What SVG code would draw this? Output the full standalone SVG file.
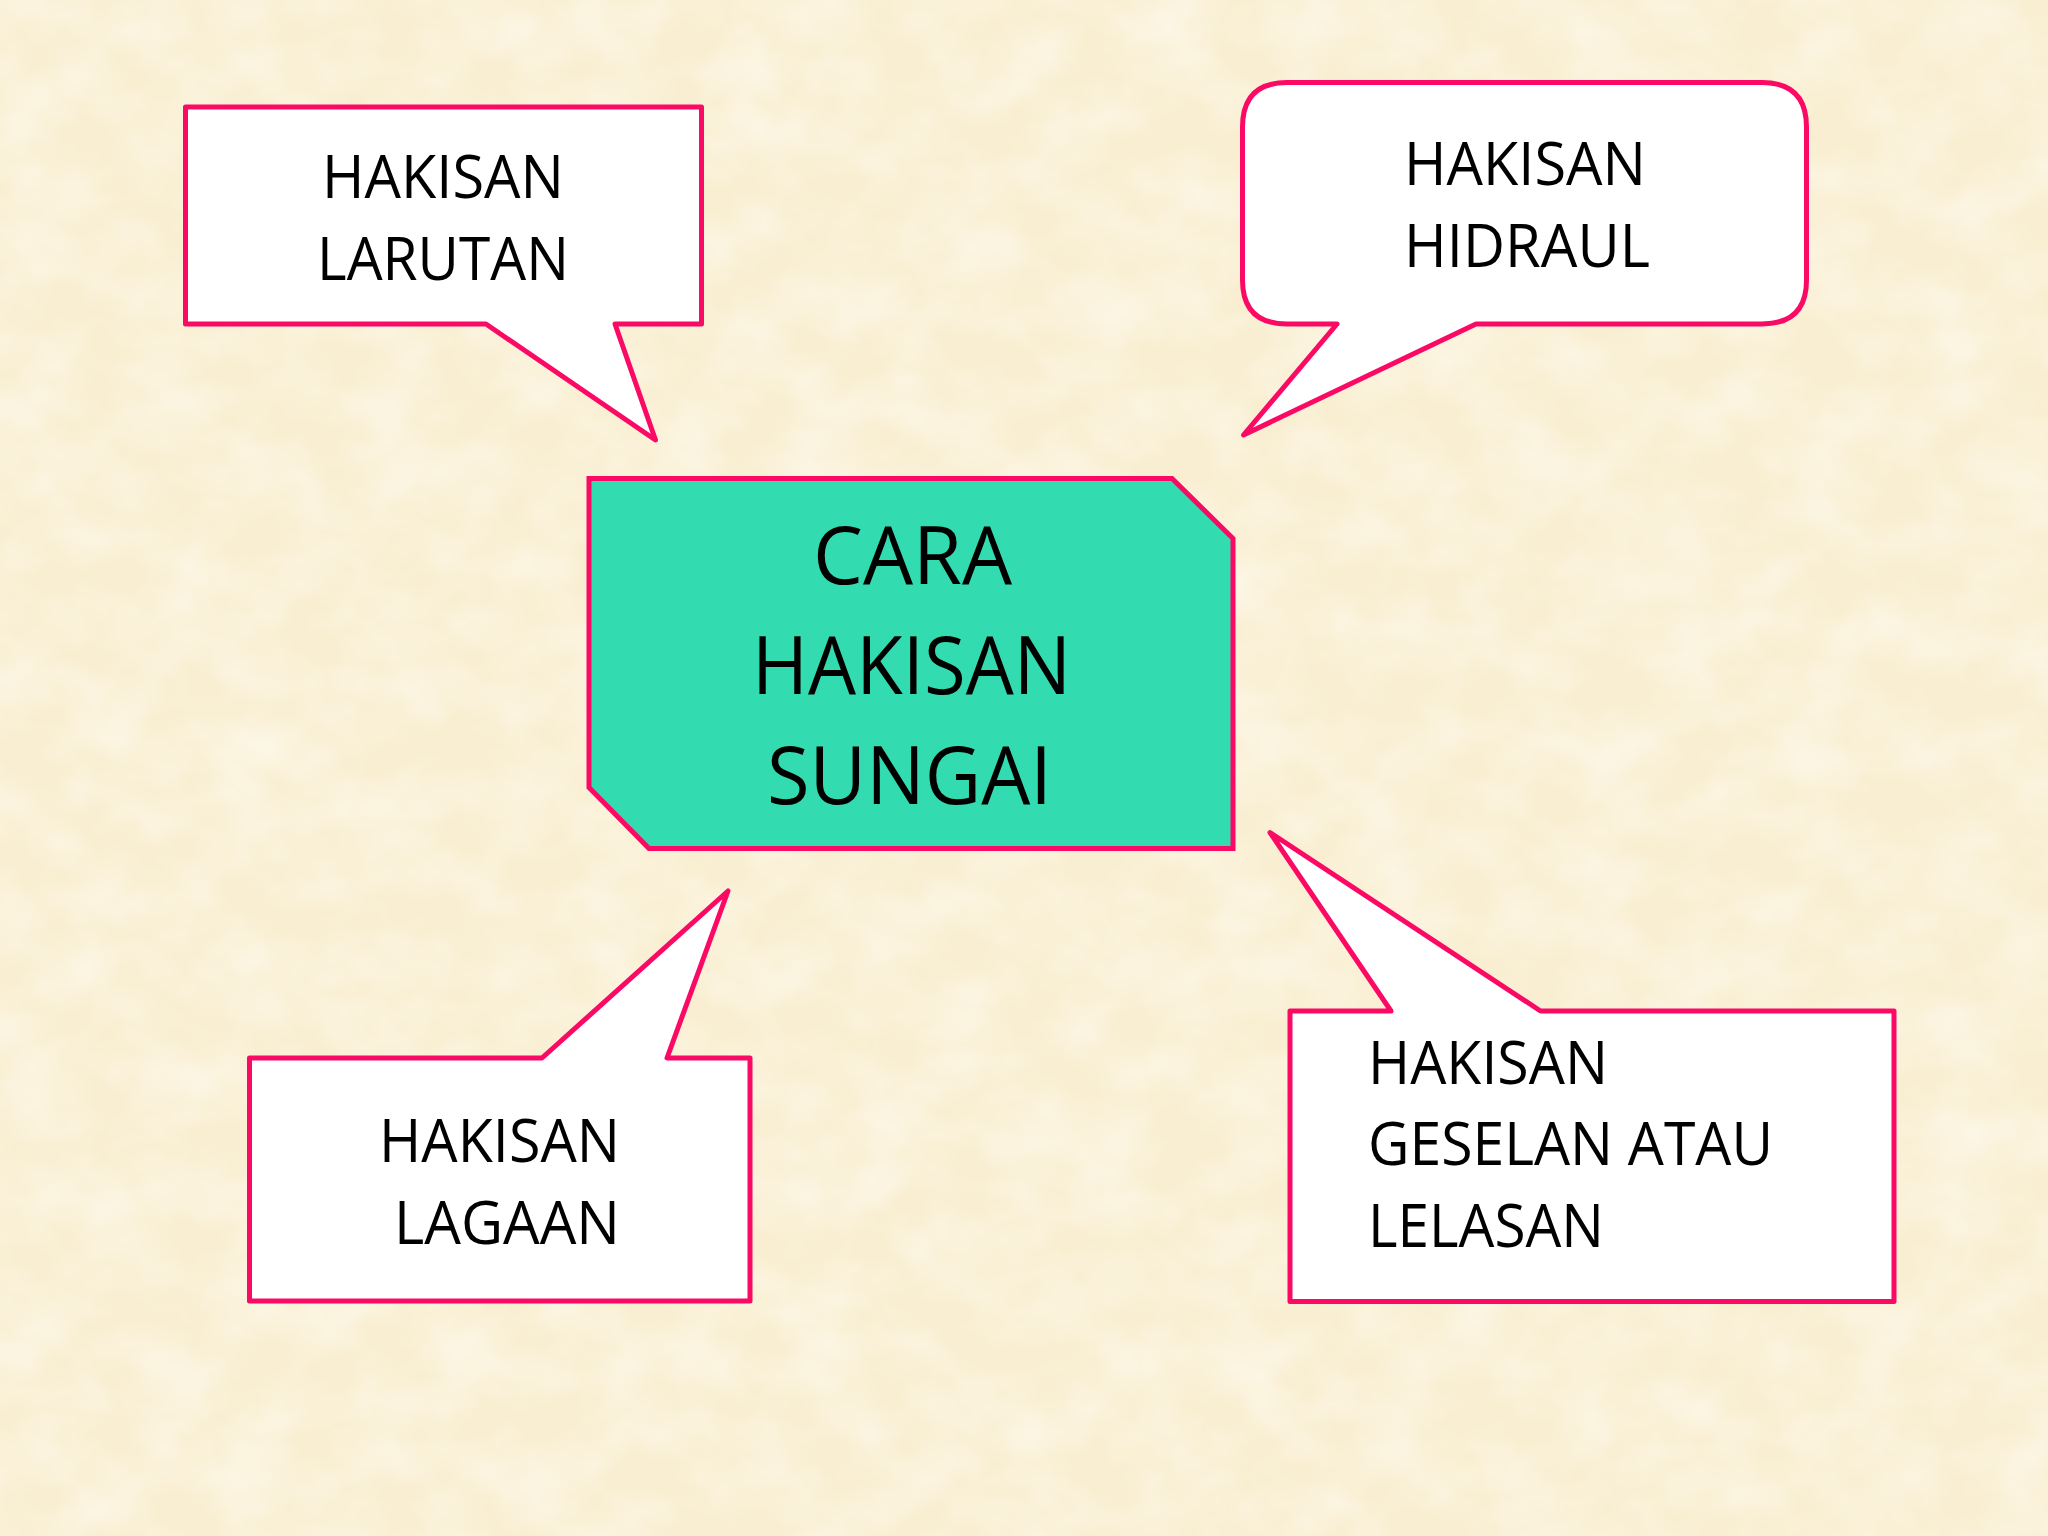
<svg xmlns="http://www.w3.org/2000/svg" width="2048" height="1536" viewBox="0 0 2048 1536">
  <defs>
    <filter id="mottle" x="0" y="0" width="100%" height="100%">
      <feTurbulence type="fractalNoise" baseFrequency="0.014 0.018" numOctaves="3" seed="7" result="n"/>
      <feColorMatrix in="n" type="matrix" values="0 0 0 0 1  0 0 0 0 1  0 0 0 0 0.96  0.8 0 0 0 -0.25"/>
    </filter>
    <style>
      .bubble { fill: #FFFFFF; stroke: #FA0A64; stroke-width: 5; stroke-linejoin: round; }
      .main { fill: #33DCB0; stroke: #FA0A64; stroke-width: 5; stroke-linejoin: miter; }
      .lbl { font-family: "Open Sans", "Lato", "DejaVu Sans", sans-serif; font-size: 61px; fill: #000000; }
      .big { font-family: "Open Sans", "Lato", "DejaVu Sans", sans-serif; font-size: 80px; fill: #000000; }
    </style>
  </defs>

  <rect x="0" y="0" width="2048" height="1536" fill="#F9EED1"/>
  <rect x="0" y="0" width="2048" height="1536" filter="url(#mottle)"/>

  <g id="connectors"></g>

  <g id="node-larutan">
    <path class="bubble" d="M185.5,107 L701.5,107 L701.5,324 L615,324 L655.5,440 L486,324 L185.5,324 Z"/>
    <text class="lbl" x="322" y="197.5" textLength="242" lengthAdjust="spacingAndGlyphs">HAKISAN</text>
    <text class="lbl" x="317" y="279.5" textLength="252" lengthAdjust="spacingAndGlyphs">LARUTAN</text>
  </g>

  <g id="node-hidraul">
    <path class="bubble" d="M1287,82.5 L1762,82.5 Q1806.5,82.5 1806.5,127 L1806.5,280 Q1806.5,324 1762,324 L1476,324 L1243.5,435 L1337,324 L1287,324 Q1242.5,324 1242.5,280 L1242.5,127 Q1242.5,82.5 1287,82.5 Z"/>
    <text class="lbl" x="1404" y="185" textLength="242" lengthAdjust="spacingAndGlyphs">HAKISAN</text>
    <text class="lbl" x="1404" y="266.5" textLength="246" lengthAdjust="spacingAndGlyphs">HIDRAUL</text>
  </g>

  <g id="node-main">
    <path class="main" d="M589,478.5 L1172,478.5 L1233,538.5 L1233,848.5 L649,848.5 L589,787.5 Z"/>
    <text class="big" x="813" y="584" textLength="199" lengthAdjust="spacingAndGlyphs">CARA</text>
    <text class="big" x="752" y="693.5" textLength="319" lengthAdjust="spacingAndGlyphs">HAKISAN</text>
    <text class="big" x="767" y="803.5" textLength="285" lengthAdjust="spacingAndGlyphs">SUNGAI</text>
  </g>

  <g id="node-lagaan">
    <path class="bubble" d="M249.5,1058 L542,1058 L728,891 L667,1058 L750,1058 L750,1301 L249.5,1301 Z"/>
    <text class="lbl" x="379" y="1161.5" textLength="241" lengthAdjust="spacingAndGlyphs">HAKISAN</text>
    <text class="lbl" x="394" y="1243.5" textLength="226" lengthAdjust="spacingAndGlyphs">LAGAAN</text>
  </g>

  <g id="node-geselan">
    <path class="bubble" d="M1290,1011 L1391,1011 L1270,832.5 L1540.5,1011 L1894,1011 L1894,1301.5 L1290,1301.5 Z"/>
    <text class="lbl" x="1368" y="1083.5" textLength="240" lengthAdjust="spacingAndGlyphs">HAKISAN</text>
    <text class="lbl" x="1368" y="1165" textLength="405" lengthAdjust="spacingAndGlyphs">GESELAN ATAU</text>
    <text class="lbl" x="1368" y="1246.5" textLength="236" lengthAdjust="spacingAndGlyphs">LELASAN</text>
  </g>
</svg>
